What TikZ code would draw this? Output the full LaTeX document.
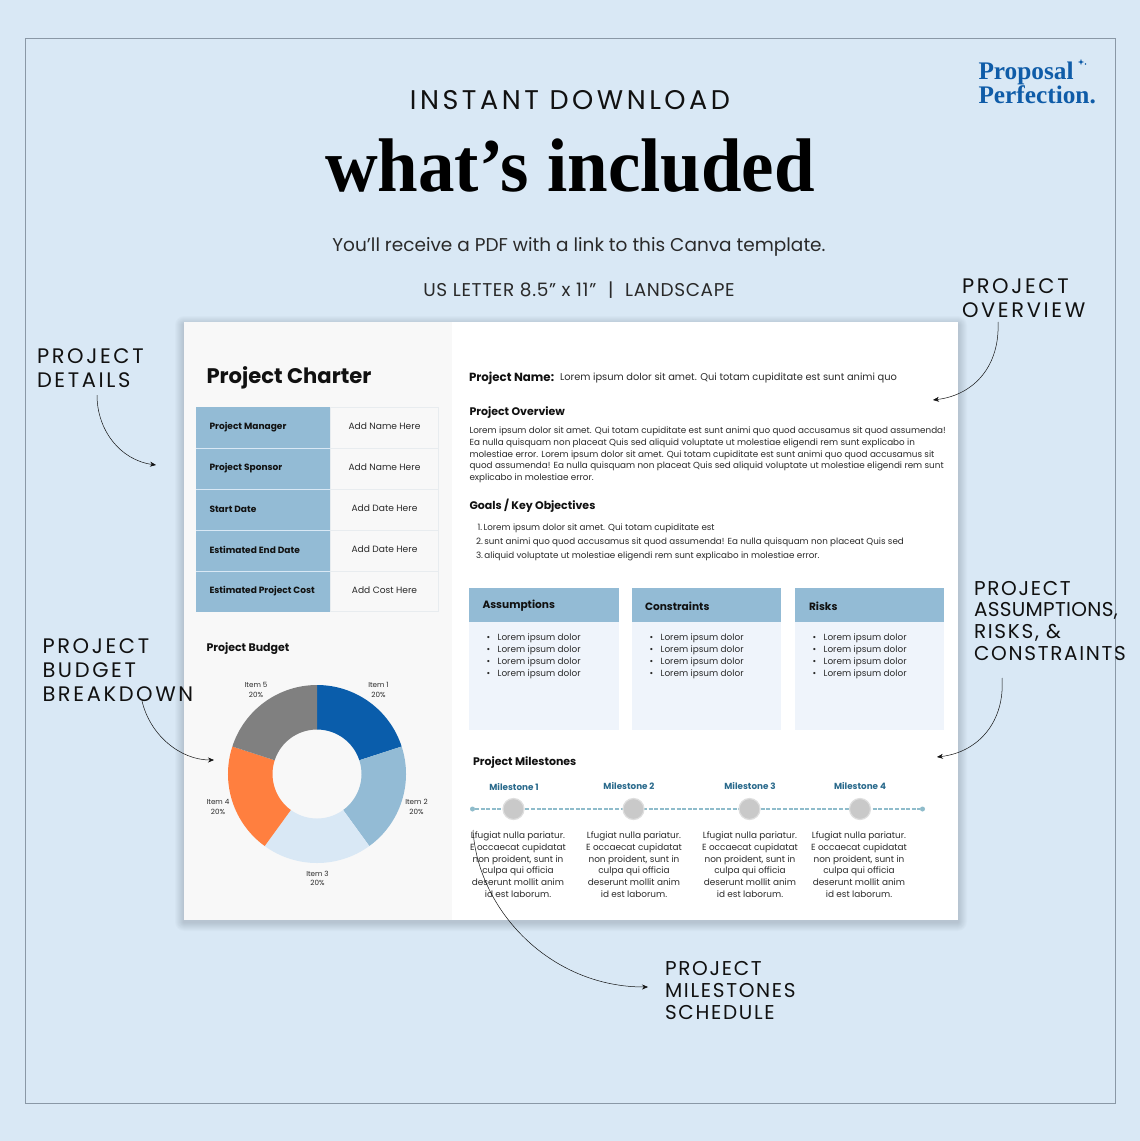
\documentclass[tikz,border=0pt]{standalone}
\usepackage{fontspec}
\setmainfont{Poppins}
\newfontfamily\serifb{Liberation Serif}[BoldFont=* Bold]
\newfontfamily\titlef{Liberation Serif}[BoldFont=* Bold,BoldFeatures={FakeStretch=0.96}]
\newfontfamily\capsf[LetterSpace=12.5]{Poppins}
\newfontfamily\capss[LetterSpace=8.5]{Poppins}
\newfontfamily\capst[LetterSpace=1.5]{Poppins}
\newfontfamily\capsg[LetterSpace=13]{Poppins}
\newfontfamily\capsl[LetterSpace=3.5]{Poppins}
\usetikzlibrary{arrows.meta}
\definecolor{bgblue}{HTML}{D9E8F5}
\definecolor{framec}{HTML}{8A98A6}
\definecolor{panel}{HTML}{F8F8F8}
\definecolor{tblue}{HTML}{93BBD5}
\definecolor{cardb}{HTML}{EFF4FB}
\definecolor{logoc}{HTML}{0F5CA8}
\definecolor{ink}{HTML}{111111}
\definecolor{txt}{HTML}{2A2A2A}
\definecolor{gridc}{HTML}{E8ECEF}
\definecolor{msc}{HTML}{2A6A8C}
\definecolor{dashc}{HTML}{8FBCCB}
\newcommand{\fs}[2]{\fontsize{#1}{#2}\selectfont}
\tikzset{
  x=1pt,y=-1pt,
  every node/.style={inner sep=0pt,outer sep=0pt,text=ink},
  callout/.style={anchor=west,align=left,font=\capsf\fs{21}{24}},
  calloutb/.style={anchor=west,align=left,font=\capss\fs{20}{22}},
  arrowline/.style={draw=ink,line width=0.5pt,-{Stealth[length=6pt,width=5pt]}},
  rowlabel/.style={anchor=west,font=\bfseries\fs{9.05}{10},text=ink},
  rowvalue/.style={anchor=center,font=\fs{9.1}{10},text=txt},
  pieitem/.style={anchor=center,align=center,font=\fs{7.2}{9.6},text=txt},
  bodytext/.style={anchor=north west,align=left,font=\fs{8.8}{11.65},text=txt},
  heading/.style={anchor=west,font=\bfseries\fs{11}{12}},
  cardhead/.style={anchor=west,font=\bfseries\fs{10.6}{12}},
  bullets/.style={anchor=north west,align=left,font=\fs{8.9}{11.9},text=txt},
  goalline/.style={anchor=west,font=\fs{8.75}{11},text=txt},
  mstitle/.style={anchor=center,font=\bfseries\fs{8.8}{10},text=msc},
  msbody/.style={anchor=north,align=center,font=\fs{8.9}{11.7},text=txt},
  msdot/.style={circle,minimum size=21pt,fill=black!21,draw=black!13,line width=1.2pt},
  enddot/.style={circle,minimum size=5pt,fill=dashc},
  dashline/.style={dashc,line width=1.1pt,dash pattern=on 4pt off 1.6pt},
}
\begin{document}
\begin{tikzpicture}
\useasboundingbox (0,0) rectangle (1140,1141);
\fill[bgblue] (0,0) rectangle (1140,1141);
\draw[framec,line width=0.7pt] (25,38) rectangle (1115,1103);

% logo
\node[anchor=west,align=left,text=logoc,font=\serifb\bfseries\fs{25.3}{24}] (logo) at (978.5,83) {Proposal\\Perfection.};
\fill[logoc] (1081,59) -- (1081.8,61.2) -- (1084,62) -- (1081.8,62.8) -- (1081,65) -- (1080.2,62.8) -- (1078,62) -- (1080.2,61.2) -- cycle;
\fill[logoc] (1085.5,64) circle[radius=0.8];

% headings
\node[anchor=center,font=\capsg\fs{27}{30}] (top) at (570,100) {INSTANT DOWNLOAD};
\node[anchor=center,text=black,font=\titlef\bfseries\fs{76}{80}] (title) at (570,166) {what’s included};
\node[anchor=center,font=\fs{18.5}{21},text=txt] (sub) at (579,247) {You’ll receive a PDF with a link to this Canva template.};
\node[anchor=center,font=\capsl\fs{18.5}{21},text=txt] (size) at (579,290.5) {US LETTER 8.5” x 11”\,\, |\,\, LANDSCAPE};

% card with soft shadow
\foreach \i in {1,...,9}{
  \fill[black,opacity=0.016,rounded corners=\i pt] ({184-\i},{322-\i+3}) rectangle ({958+\i},{920+\i+2});
}
\fill[white] (184,322) rectangle (958,920);
\fill[panel] (184,322) rectangle (452,920);

% left panel
\node[anchor=west,font=\bfseries\fs{21.1}{24}] (charter) at (206.5,377.5) {Project Charter};
\fill[tblue] (196,407) rectangle (330,612);
\draw[gridc,line width=0.6pt] (330,407) rectangle (438.5,611.5);
\foreach \yy in {448,489,530,571}{
  \draw[gridc,line width=0.6pt] (330,\yy) -- (438.5,\yy);
  \draw[bgblue,line width=0.9pt] (196,\yy) -- (330,\yy);
}
\node[rowlabel] (r1) at (209.5,427) {Project Manager};
\node[rowlabel] (r2) at (209.5,468) {Project Sponsor};
\node[rowlabel] (r3) at (209.5,509) {Start Date};
\node[rowlabel] (r4) at (209.5,550) {Estimated End Date};
\node[rowlabel] (r5) at (209.5,591) {Estimated Project Cost};
\node[rowvalue] (v1) at (384.5,426.5) {Add Name Here};
\node[rowvalue] (v2) at (384.5,467.5) {Add Name Here};
\node[rowvalue] (v3) at (384.5,508.5) {Add Date Here};
\node[rowvalue] (v4) at (384.5,549.5) {Add Date Here};
\node[rowvalue] (v5) at (384.5,590.5) {Add Cost Here};

\node[heading] (budget) at (206.5,649) {Project Budget};

% donut: five slices of 72 degrees from the top, clockwise
\def\cx{317}\def\cy{774}
\foreach \a/\b/\c in {90/18/{0A5DAB},18/-54/{93BBD5},-54/-126/{D9E8F5},-126/-198/{FF7F3F},-198/-270/{808080}}{
  \definecolor{slicec}{HTML}{\c}
  \fill[slicec] ({\cx+89*cos(\a)},{\cy-89*sin(\a)})
     arc[start angle=-\a,end angle=-\b,radius=89]
     -- ({\cx+44.5*cos(\b)},{\cy-44.5*sin(\b)})
     arc[start angle=-\b,end angle=-\a,radius=44.5] -- cycle;
}
\node[pieitem] (p1) at (378.5,690) {Item 1\\20\%};
\node[pieitem] (p2) at (416.5,807) {Item 2\\20\%};
\node[pieitem] (p3) at (317.5,878.5) {Item 3\\20\%};
\node[pieitem] (p4) at (218,807) {Item 4\\20\%};
\node[pieitem] (p5) at (256,690) {Item 5\\20\%};

% right panel
\node[anchor=west,font=\bfseries\fs{11.8}{14}] (pname) at (469,378.5) {Project Name:};
\node[anchor=west,font=\fs{9.86}{12},text=txt] (pnamev) at (560,378) {Lorem ipsum dolor sit amet. Qui totam cupiditate est sunt animi quo};
\node[heading] (ov) at (469.5,413) {Project Overview};
\node[bodytext] (ovt) at (469.5,427) {Lorem ipsum dolor sit amet. Qui totam cupiditate est sunt animi quo quod accusamus sit quod assumenda!\\Ea nulla quisquam non placeat Quis sed aliquid voluptate ut molestiae eligendi rem sunt explicabo in\\molestiae error. Lorem ipsum dolor sit amet. Qui totam cupiditate est sunt animi quo quod accusamus sit\\quod assumenda! Ea nulla quisquam non placeat Quis sed aliquid voluptate ut molestiae eligendi rem sunt\\explicabo in molestiae error.};
\node[heading] (go) at (469.5,505.5) {Goals / Key Objectives};
\node[goalline] (g1) at (477.5,528.5) {1.\,Lorem ipsum dolor sit amet. Qui totam cupiditate est};
\node[goalline] (g2) at (476,542.5) {2.\,sunt animi quo quod accusamus sit quod assumenda! Ea nulla quisquam non placeat Quis sed};
\node[goalline] (g3) at (476,556.5) {3.\,aliquid voluptate ut molestiae eligendi rem sunt explicabo in molestiae error.};

% three cards
\foreach \xa/\xb in {469/619,632/781,795/944}{
  \fill[cardb] (\xa,622) rectangle (\xb,730);
  \fill[tblue] (\xa,588) rectangle (\xb,622);
}
\node[cardhead] (c1) at (482.5,606) {Assumptions};
\node[cardhead] (c2) at (645,606) {Constraints};
\node[cardhead] (c3) at (809,606) {Risks};
\def\bl{\textbullet\hspace{7.5pt}Lorem ipsum dolor}
\node[bullets] (b1) at (486.5,634) {\bl\\\bl\\\bl\\\bl};
\node[bullets] (b2) at (649.5,634) {\bl\\\bl\\\bl\\\bl};
\node[bullets] (b3) at (812.5,634) {\bl\\\bl\\\bl\\\bl};

% milestones
\node[heading] (ms) at (473,763) {Project Milestones};
\node[enddot] (e0) at (472.5,809) {};
\node[enddot] (e1) at (922.5,809) {};
\draw[dashline] (e0) -- (e1);
\node[msdot] (d1) at (513.5,809) {};
\node[msdot] (d2) at (633.5,809) {};
\node[msdot] (d3) at (749.5,809) {};
\node[msdot] (d4) at (860,809) {};
\node[mstitle] (m1) at (514,787) {Milestone 1};
\node[mstitle] (m2) at (629,785.5) {Milestone 2};
\node[mstitle] (m3) at (750,785.5) {Milestone 3};
\node[mstitle] (m4) at (860,785.5) {Milestone 4};
\def\mt{Lfugiat nulla pariatur.\\E occaecat cupidatat\\non proident, sunt in\\culpa qui officia\\deserunt mollit anim\\id est laborum.}
\node[msbody] (t1) at (518,832) {\mt};
\node[msbody] (t2) at (634,832) {\mt};
\node[msbody] (t3) at (750,832) {\mt};
\node[msbody] (t4) at (859,832) {\mt};

% callouts
\node[callout] (l1) at (37,368) {PROJECT\\DETAILS};
\node[callout] (l2) at (962,298) {PROJECT\\OVERVIEW};
\node[callout] (l3) at (42.5,670) {PROJECT\\BUDGET\\BREAKDOWN};
\node[calloutb] (l4) at (974,621) {PROJECT\\{\capst ASSUMPTIONS,}\\RISKS, \&\\CONSTRAINTS};
\node[calloutb] (l5) at (665,990) {PROJECT\\MILESTONES\\SCHEDULE};

\coordinate (s1) at (97,395);   \coordinate (e1a) at (156,465);
\coordinate (s2) at (998,322);  \coordinate (e2a) at (933,400);
\coordinate (s3) at (142,701);  \coordinate (e3a) at (214,760);
\coordinate (s4) at (1002,678); \coordinate (e4a) at (937,757);
\coordinate (s5) at (473,830);  \coordinate (e5a) at (648,987);
\draw[arrowline] (s1) .. controls (97,430) and (120,460) .. (e1a);
\draw[arrowline] (s2) .. controls (1000,365) and (975,395) .. (e2a);
\draw[arrowline] (s3) .. controls (150,735) and (180,760) .. (e3a);
\draw[arrowline] (s4) .. controls (1005,720) and (980,752) .. (e4a);
\draw[arrowline] (s5) .. controls (478,910) and (550,987) .. (e5a);
\end{tikzpicture}
\end{document}
